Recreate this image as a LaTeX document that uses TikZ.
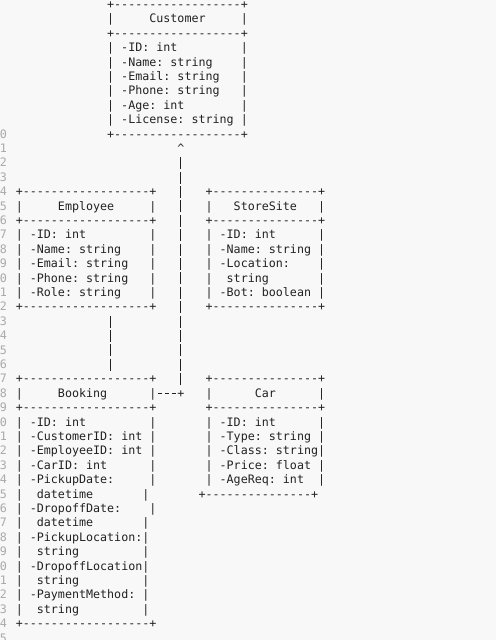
\documentclass[tikz,border=0pt]{standalone}
\usepackage{fontspec}
\setmonofont{DejaVu Sans Mono}[Ligatures={TeXOff,CommonOff}]
\usetikzlibrary{calc}

\definecolor{pagebg}{RGB}{248,248,248}
\definecolor{ink}{RGB}{34,34,34}
\definecolor{gutter}{RGB}{170,170,170}

\begin{document}
\begin{tikzpicture}[
    x=7.03pt, y=-14.4pt,
    ascii/.style={inner sep=0pt, outer sep=0pt, anchor=north west, align=left, text=ink,
      font=\ttfamily\fontsize{11.68pt}{14.4pt}\selectfont\frenchspacing},
    glyph/.style={inner sep=0pt, outer sep=0pt, anchor=base, text=ink,
      font=\ttfamily\fontsize{11.68pt}{14.4pt}\selectfont},
    lineno/.style={glyph, text=gutter},
    barline/.style={draw=ink, line width=1pt, dash pattern=on 12pt off 2.4pt},
    dashline/.style={draw=ink, line width=1pt, dash pattern=on 4pt off 3pt}
  ]

  % page and gutter
  \fill[pagebg] (-2.745,0.6736) rectangle (67.81,45.118);
  \useasboundingbox (-2.745,0.6736) rectangle (67.81,45.118);
  \foreach \n in {10,...,45} {
    \pgfmathtruncatemacro\digit{mod(\n,10)}
    \node[lineno] (ln\n) at (-2.276,\n+0.267) {\digit};
  }

  % classes
  \node[ascii] (customer) at (12.5,0.567) {\strut+------------------+\\
|~~~~~Customer~~~~~|\\
+------------------+\\
| -ID: int~~~~~~~~~|\\
| -Name: string~~~~|\\
| -Email: string~~~|\\
| -Phone: string~~~|\\
| -Age: int~~~~~~~~|\\
| -License: string |\\
+------------------+};

  \node[ascii] (employee) at (-0.5,13.567) {\strut+------------------+\\
|~~~~~Employee~~~~~|\\
+------------------+\\
| -ID: int~~~~~~~~~|\\
| -Name: string~~~~|\\
| -Email: string~~~|\\
| -Phone: string~~~|\\
| -Role: string~~~~|\\
+------------------+};

  \node[ascii] (storesite) at (26.5,13.567) {\strut+---------------+\\
|~~~StoreSite~~~|\\
+---------------+\\
| -ID: int~~~~~~|\\
| -Name: string |\\
| -Location:~~~~|\\
|~~string~~~~~~~|\\
| -Bot: boolean |\\
+---------------+};

  \node[ascii] (booking) at (-0.5,26.567) {\strut+------------------+\\
|~~~~~Booking~~~~~~|\\
+------------------+\\
| -ID: int~~~~~~~~~|\\
| -CustomerID: int |\\
| -EmployeeID: int |\\
| -CarID: int~~~~~~|\\
| -PickupDate:~~~~~|\\
|~~datetime~~~~~~~|\\
| -DropoffDate:~~~~|\\
|~~datetime~~~~~~~|\\
| -PickupLocation:|\\
|~~string~~~~~~~~~|\\
| -DropoffLocation|\\
|~~string~~~~~~~~~|\\
| -PaymentMethod: |\\
|~~string~~~~~~~~~|\\
+------------------+};

  \node[ascii] (car) at (25.5,26.567) {\strut~+---------------+\\
~|~~~~~~Car~~~~~~|\\
~+---------------+\\
~| -ID: int~~~~~~|\\
~| -Type: string |\\
~| -Class: string|\\
~| -Price: float |\\
~| -AgeReq: int~~|\\
+---------------+};

  % links
  \node[glyph] (caret) at (23,11.267) {\textasciicircum};
  \node[glyph] (junction) at (23,28.267) {+};

  \draw[barline] ($(junction.base)+(0,-0.85)$) -- ($(caret.base)+(0,0.316)$);
  \draw[dashline] ($(booking.north east |- junction.base)+(0.214,-0.267)$) -- ($(junction.base)+(-0.714,-0.267)$);
  \draw[barline] ($(employee.north west)+(13.5,9.016)$) -- ($(booking.north west)+(13.5,-0.15)$);
\end{tikzpicture}
\end{document}
